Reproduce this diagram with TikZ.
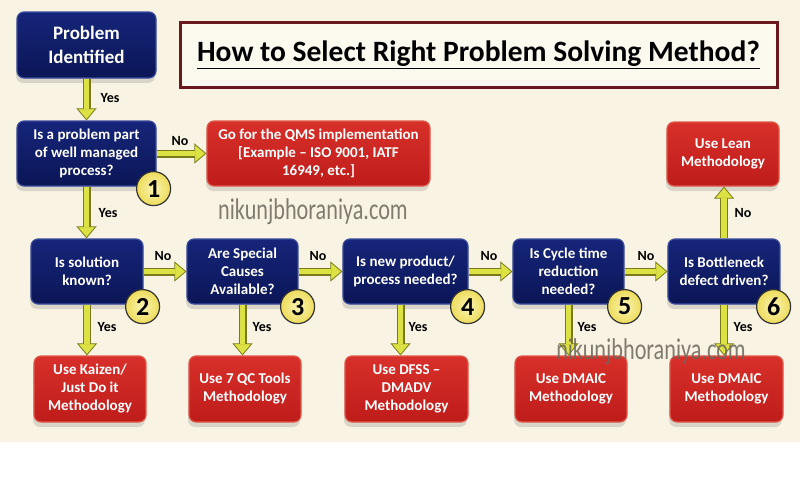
\documentclass[tikz,border=0pt]{standalone}
\usepackage{fontspec}
\setmainfont{Carlito}
\usetikzlibrary{arrows.meta, shadows, positioning}
\definecolor{mycream}{HTML}{F8F3E2}
\definecolor{mytitlebg}{HTML}{FCF9EF}
\definecolor{mymaroon}{HTML}{6A1A1E}
\definecolor{mynavy}{HTML}{0B1656}
\definecolor{mynavytop}{HTML}{16257A}
\definecolor{mynavyedge}{HTML}{3A4C9E}
\definecolor{myred}{HTML}{BE1C1A}
\definecolor{myredtop}{HTML}{D8302A}
\definecolor{myrededge}{HTML}{E0584A}
\definecolor{myyellow}{HTML}{DDE244}
\definecolor{myolive}{HTML}{7A7A1C}
\definecolor{mycircle}{HTML}{EDDC5A}
\definecolor{mycirclein}{HTML}{FBF3B4}
\definecolor{mymark}{HTML}{6B675C}
\tikzset{
  qbox/.style={rounded corners=7pt, draw=mynavyedge, line width=1.2pt,
    top color=mynavytop, bottom color=mynavy, text=white, align=center,
    font=\bfseries\fontsize{15}{18}\selectfont, minimum height=65pt, inner sep=2pt,
    drop shadow={opacity=0.25, shadow xshift=-1pt, shadow yshift=-5pt}},
  rbox/.style={qbox, draw=myrededge, top color=myredtop, bottom color=myred},
  numdot/.style={circle, draw=black!80, line width=1.2pt, inner color=mycirclein,
    outer color=mycircle, minimum size=34pt, inner sep=0pt,
    font=\bfseries\fontsize{26}{26}\selectfont},
  lbl/.style={font=\bfseries\fontsize{14}{14}\selectfont},
  yarr/.style={draw=myolive, line width=8pt,
    -{Triangle[length=12pt, width=20pt, line width=0.8pt, fill=myyellow]},
    postaction={draw=myyellow, line width=5.6pt, -, shorten >=11pt}},
  wmark/.style={text=mymark, opacity=0.85, font=\fontsize{30}{30}\selectfont, inner sep=0pt}
}

\begin{document}
\begin{tikzpicture}[x=1pt, y=-1pt]
  \useasboundingbox (0,0) rectangle (800,482);
  \fill[mycream] (0,0) rectangle (800,442);

  % title
  \node[draw=mymaroon, line width=3pt, fill=mytitlebg, minimum width=597pt, minimum height=65pt,
    font=\bfseries\fontsize{29.5}{29.5}\selectfont] (ttl) at (478.5,54.5)
    {\underline{How to Select Right Problem Solving Method?}};

  % boxes
  \node[qbox, minimum width=139pt, minimum height=66pt, font=\bfseries\fontsize{19}{24}\selectfont]
    (prob) at (86.5,45) {Problem\\Identified};
  \node[qbox, minimum width=139pt] (qone) at (86.5,153.5) {Is a problem part\\of well managed\\process?};
  \node[rbox, minimum width=223pt] (qms) at (318.5,153.5)
    {Go for the QMS implementation\\{[}Example -- ISO 9001, IATF\\16949, etc.{]}};
  \node[rbox, minimum width=112pt, minimum height=64pt] (lean) at (723,154) {Use Lean\\Methodology};

  \node[qbox, minimum width=112pt] (qtwo) at (87,271.5) {Is solution\\known?};
  \node[qbox, minimum width=111pt] (qthree) at (242.5,271.5) {Are Special\\Causes\\Available?};
  \node[qbox, minimum width=125pt] (qfour) at (405.5,271.5) {Is new product/\\process needed?};
  \node[qbox, minimum width=111pt] (qfive) at (568.5,271.5) {Is Cycle time\\reduction\\needed?};
  \node[qbox, minimum width=112pt] (qsix) at (724,271.5) {Is Bottleneck\\defect driven?};

  \node[rbox, minimum width=112pt, minimum height=66pt] (rtwo) at (90,389) {Use Kaizen/\\Just Do it\\Methodology};
  \node[rbox, minimum width=112pt, minimum height=66pt] (rthree) at (245,389) {Use 7 QC Tools\\Methodology};
  \node[rbox, minimum width=123pt, minimum height=66pt] (rfour) at (406.5,389) {Use DFSS --\\DMADV\\Methodology};
  \node[rbox, minimum width=112pt, minimum height=66pt] (rfive) at (571,389) {Use DMAIC\\Methodology};
  \node[rbox, minimum width=113pt, minimum height=66pt] (rsix) at (726.5,389) {Use DMAIC\\Methodology};

  % arrows
  \draw[yarr] (prob.south) -- (prob.south |- qone.north);
  \draw[yarr] (qone.east) -- (qone.east -| qms.west);
  \draw[yarr] (qone.south) -- (qone.south |- qtwo.north);
  \draw[yarr] (qtwo.east) -- (qtwo.east -| qthree.west);
  \draw[yarr] (qthree.east) -- (qthree.east -| qfour.west);
  \draw[yarr] (qfour.east) -- (qfour.east -| qfive.west);
  \draw[yarr] (qfive.east) -- (qfive.east -| qsix.west);
  \draw[yarr] (qsix.north) -- (qsix.north |- lean.south);
  \draw[yarr] (qtwo.south) -- (qtwo.south |- rtwo.north);
  \draw[yarr] (qthree.south) -- (qthree.south |- rthree.north);
  \draw[yarr] ([xshift=-5pt]qfour.south) -- ([xshift=-5pt]qfour.south |- rfour.north);
  \draw[yarr] (qfive.south) -- (qfive.south |- rfive.north);
  \draw[yarr] (qsix.south) -- (qsix.south |- rsix.north);

  % numbers
  \node[numdot] (cone) at ([shift={(-3pt,-2pt)}]qone.south east) {1};
  \node[numdot] (ctwo) at ([shift={(-1pt,-2pt)}]qtwo.south east) {2};
  \node[numdot] (cthree) at ([shift={(-1pt,-2pt)}]qthree.south east) {3};
  \node[numdot] (cfour) at ([shift={(-1pt,-2pt)}]qfour.south east) {4};
  \node[numdot] (cfive) at ([shift={(0pt,-2pt)}]qfive.south east) {5};
  \node[numdot] (csix) at ([shift={(-7pt,-2pt)}]qsix.south east) {6};

  % yes / no
  \node[lbl] (yzero) at (110,98) {Yes};
  \node[lbl] (none) at (180,141) {No};
  \node[lbl] (yone) at (108,213) {Yes};
  \node[lbl] (ntwo) at (163,256) {No};
  \node[lbl] (nthree) at (318,256) {No};
  \node[lbl] (nfour) at (489,256) {No};
  \node[lbl] (nfive) at (646,256) {No};
  \node[lbl] (nsix) at (743,213) {No};
  \node[lbl] (ytwo) at (107,327) {Yes};
  \node[lbl] (ythree) at (262,327) {Yes};
  \node[lbl] (yfour) at (418,327) {Yes};
  \node[lbl] (yfive) at (587,327) {Yes};
  \node[lbl] (ysix) at (743,327) {Yes};

  % watermarks
  \node[wmark] (wone) at (313,212) {\scalebox{0.74}[1]{nikunjbhoraniya.com}};
  \node[wmark] (wtwo) at (651,352) {\scalebox{0.74}[1]{nikunjbhoraniya.com}};
\end{tikzpicture}
\end{document}
